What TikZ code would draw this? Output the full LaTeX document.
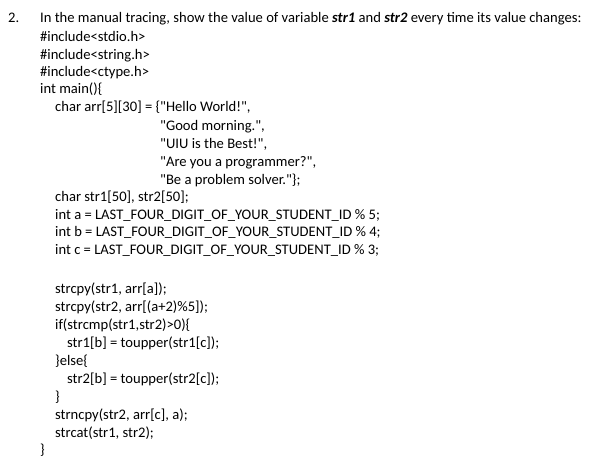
\documentclass[tikz,border=0pt]{standalone}
\usepackage{fontspec}
\setmainfont{Carlito}[Ligatures=TeXOff]
\begin{document}
\begin{tikzpicture}[x=1pt,y=-1pt,
  ln/.style={anchor=base west,inner sep=0pt,font=\fontsize{14.6}{17}\selectfont}]
\useasboundingbox (0,0) rectangle (611,457);
\node[ln] (n) at (8,23) {2.};
\node[ln] (t) at (40,23) {In the manual tracing, show the value of variable \textbf{\textit{str1}} and \textbf{\textit{str2}} every time its value changes:};
\node[ln] (l1) at (40,42) {\#include<stdio.h>};
\node[ln] (l2) at (40,60) {\#include<string.h>};
\node[ln] (l3) at (40,77) {\#include<ctype.h>};
\node[ln] (l4) at (40,94) {int main()\{};
\node[ln] (l5) at (55,112) {char arr[5][30] = \{"Hello World!",};
\node[ln] (l6) at (160,131) {"Good morning.",};
\node[ln] (l7) at (160,149) {"UIU is the Best!",};
\node[ln] (l8) at (160,167) {"Are you a programmer?",};
\node[ln] (l9) at (160,185) {"Be a problem solver."\};};
\node[ln] (l10) at (55,202) {char str1[50], str2[50];};
\node[ln] (l11) at (55,220) {int a = LAST\_FOUR\_DIGIT\_OF\_YOUR\_STUDENT\_ID \% 5;};
\node[ln] (l12) at (55,237) {int b = LAST\_FOUR\_DIGIT\_OF\_YOUR\_STUDENT\_ID \% 4;};
\node[ln] (l13) at (55,255) {int c = LAST\_FOUR\_DIGIT\_OF\_YOUR\_STUDENT\_ID \% 3;};
\node[ln] (l14) at (55,294) {strcpy(str1, arr[a]);};
\node[ln] (l15) at (55,312) {strcpy(str2, arr[(a+2)\%5]);};
\node[ln] (l16) at (55,330) {if(strcmp(str1,str2)>0)\{};
\node[ln] (l17) at (67,348) {str1[b] = toupper(str1[c]);};
\node[ln] (l18) at (55,365) {\}else\{};
\node[ln] (l19) at (67,383) {str2[b] = toupper(str2[c]);};
\node[ln] (l20) at (55,401) {\}};
\node[ln] (l21) at (55,419) {strncpy(str2, arr[c], a);};
\node[ln] (l22) at (55,437) {strcat(str1, str2);};
\node[ln] (l23) at (40,454) {\}};
\end{tikzpicture}
\end{document}
